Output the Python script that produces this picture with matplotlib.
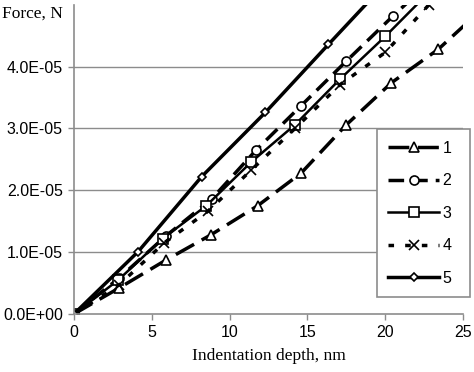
import numpy as np
import matplotlib
matplotlib.use("Agg")
import matplotlib.pyplot as plt

# indentation depth (nm) and force (N)
depth_1 = [0, 2.9, 5.9, 8.8, 11.8, 14.6, 17.5, 20.4, 23.4, 26.3]
force_1 = [0, 0.42e-5, 0.87e-5, 1.28e-5, 1.75e-5, 2.28e-5, 3.06e-5, 3.74e-5, 4.28e-5, 4.95e-5]

depth_2 = [0, 2.9, 5.9, 8.85, 11.7, 14.6, 17.5, 20.5, 23.4]
force_2 = [0, 0.58e-5, 1.26e-5, 1.86e-5, 2.65e-5, 3.37e-5, 4.09e-5, 4.82e-5, 5.5e-5]

depth_3 = [0, 2.85, 5.7, 8.5, 11.4, 14.2, 17.1, 20.0, 22.8]
force_3 = [0, 0.55e-5, 1.22e-5, 1.75e-5, 2.46e-5, 3.06e-5, 3.80e-5, 4.49e-5, 5.2e-5]

depth_4 = [0, 2.9, 5.8, 8.6, 11.4, 14.2, 17.1, 20.0, 22.8]
force_4 = [0, 0.47e-5, 1.15e-5, 1.66e-5, 2.33e-5, 3.0e-5, 3.71e-5, 4.23e-5, 5.0e-5]

depth_5 = [0, 4.13, 8.2, 12.3, 16.35, 20.4]
force_5 = [0, 1.01e-5, 2.22e-5, 3.26e-5, 4.36e-5, 5.45e-5]

labels = ["1", "2", "3", "4", "5"]

fig = plt.figure(figsize=(4.74, 3.72), dpi=100)
ax = fig.add_axes([0.156, 0.156, 0.821, 0.831])

grey = "#8c8c8c"
ax.set_xlim(0, 25)
ax.set_ylim(0, 5e-5)
ax.set_yticks([0, 1e-5, 2e-5, 3e-5, 4e-5])
ax.set_yticklabels(["0.0E+00", "1.0E-05", "2.0E-05", "3.0E-05", "4.0E-05"])
ax.set_xticks([0, 5, 10, 15, 20, 25])
for y in [1e-5, 2e-5, 3e-5, 4e-5]:
    ax.axhline(y, color=grey, lw=1, zorder=0)

for s in ["top", "right"]:
    ax.spines[s].set_visible(False)
for s in ["left", "bottom"]:
    ax.spines[s].set_color(grey)
    ax.spines[s].set_linewidth(1.2)
ax.tick_params(colors=grey, labelcolor="black", length=4, width=1,
               labelsize=11.5, pad=4)
for lab in ax.get_xticklabels() + ax.get_yticklabels():
    lab.set_fontfamily("Liberation Sans")

mk = dict(markerfacecolor="white", markeredgecolor="black", markeredgewidth=1.2, color="black")
l1, = ax.plot(depth_1, force_1, lw=2.5, dashes=(6, 2.5), marker="^", markersize=6.5, **mk)
l2, = ax.plot(depth_2, force_2, lw=2.5, dashes=(4.5, 2.3), marker="o", markersize=6.5, **mk)
l3, = ax.plot(depth_3, force_3, lw=1.8, marker="s", markersize=6.5, **mk)
l4, = ax.plot(depth_4, force_4, lw=2.5, dashes=(1.6, 3.2), marker="x", markersize=6.5,
              color="black", markeredgewidth=1.2)
l5, = ax.plot(depth_5, force_5, lw=2.5, marker="D", markersize=4.5, **mk)

ax.set_xlabel("Indentation depth, nm", fontfamily="Liberation Serif", fontsize=12.5, labelpad=6)
fig.text(0.005, 0.985, "Force, N", fontfamily="Liberation Serif", fontsize=12.5,
         ha="left", va="top")

leg = fig.legend([l1, l2, l3, l4, l5], labels, loc="lower left",
                 bbox_to_anchor=(0.795, 0.2016, 0.197, 0.455), mode="expand",
                 prop={"family": "Liberation Sans", "size": 11.5},
                 handlelength=3.2, labelspacing=1.1, handletextpad=0.2,
                 borderpad=0.7, borderaxespad=0, fancybox=False, framealpha=1)
leg.get_frame().set_edgecolor(grey)
leg.get_frame().set_linewidth(1.2)

fig.savefig("out.png", dpi=100)
